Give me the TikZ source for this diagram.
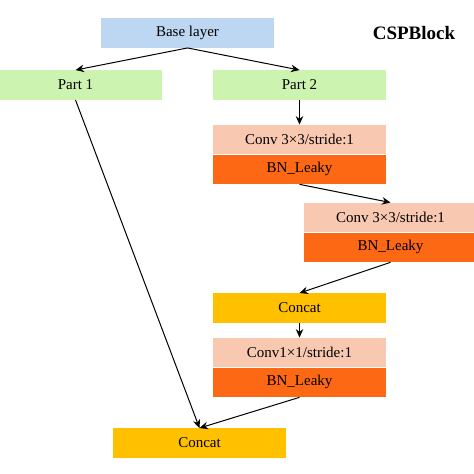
\documentclass[tikz,border=0pt]{standalone}
\usepackage{fontspec}
\setmainfont{Liberation Serif}
\usepackage{xcolor}
\usetikzlibrary{arrows.meta,positioning}

\definecolor{baseblue}{HTML}{BDD7F2}
\definecolor{partgreen}{HTML}{CCF4B0}
\definecolor{convpink}{HTML}{F9C8B0}
\definecolor{bnorange}{HTML}{FD6814}
\definecolor{concatgold}{HTML}{FFC000}

\begin{document}
\begin{tikzpicture}[x=1pt,y=-1pt,
  blk/.style={minimum width=173pt,minimum height=29.5pt,inner sep=0pt,
    font=\fontsize{15}{17}\selectfont},
  link/.style={-{Stealth[length=8.5pt,width=7.5pt]},line width=1pt}]
  \clip (0,0) rectangle (474,474);
  % title
  \node (title) at (414,33) {\fontsize{19}{21}\selectfont\bfseries CSPBlock};
  % blocks
  \node[blk,fill=baseblue] (base) at (187.5,33) {Base layer};
  \node[blk,fill=partgreen] (part1) at (75.5,85) {Part 1};
  \node[blk,fill=partgreen] (part2) at (299.5,85) {Part 2};
  \node[blk,fill=convpink] (conv1) at (299.5,139.5) {Conv 3×3/stride:1};
  \node[blk,fill=bnorange,below=0pt of conv1] (bn1) {BN\_Leaky};
  \node[blk,fill=convpink] (conv2) at (390.5,217.5) {Conv 3×3/stride:1};
  \node[blk,fill=bnorange,below=0pt of conv2] (bn2) {BN\_Leaky};
  \node[blk,fill=concatgold] (concat1) at (299.5,308) {Concat};
  \node[blk,fill=convpink] (conv3) at (299.5,352.5) {Conv1×1/stride:1};
  \node[blk,fill=bnorange,below=0pt of conv3] (bn3) {BN\_Leaky};
  \node[blk,fill=concatgold] (concat2) at (199.5,443) {Concat};
  % connectors
  \draw[link] (base.south) -- (part1.north);
  \draw[link] (base.south) -- (part2.north);
  \draw[link] (part2.south) -- (conv1.north);
  \draw[link] (bn1.south) -- (conv2.north);
  \draw[link] (bn2.south) -- (concat1.north);
  \draw[link] (concat1.south) -- (conv3.north);
  \draw[link] (bn3.south) -- (concat2.north);
  \draw[link] (part1.south) -- (concat2.north);
\end{tikzpicture}
\end{document}
